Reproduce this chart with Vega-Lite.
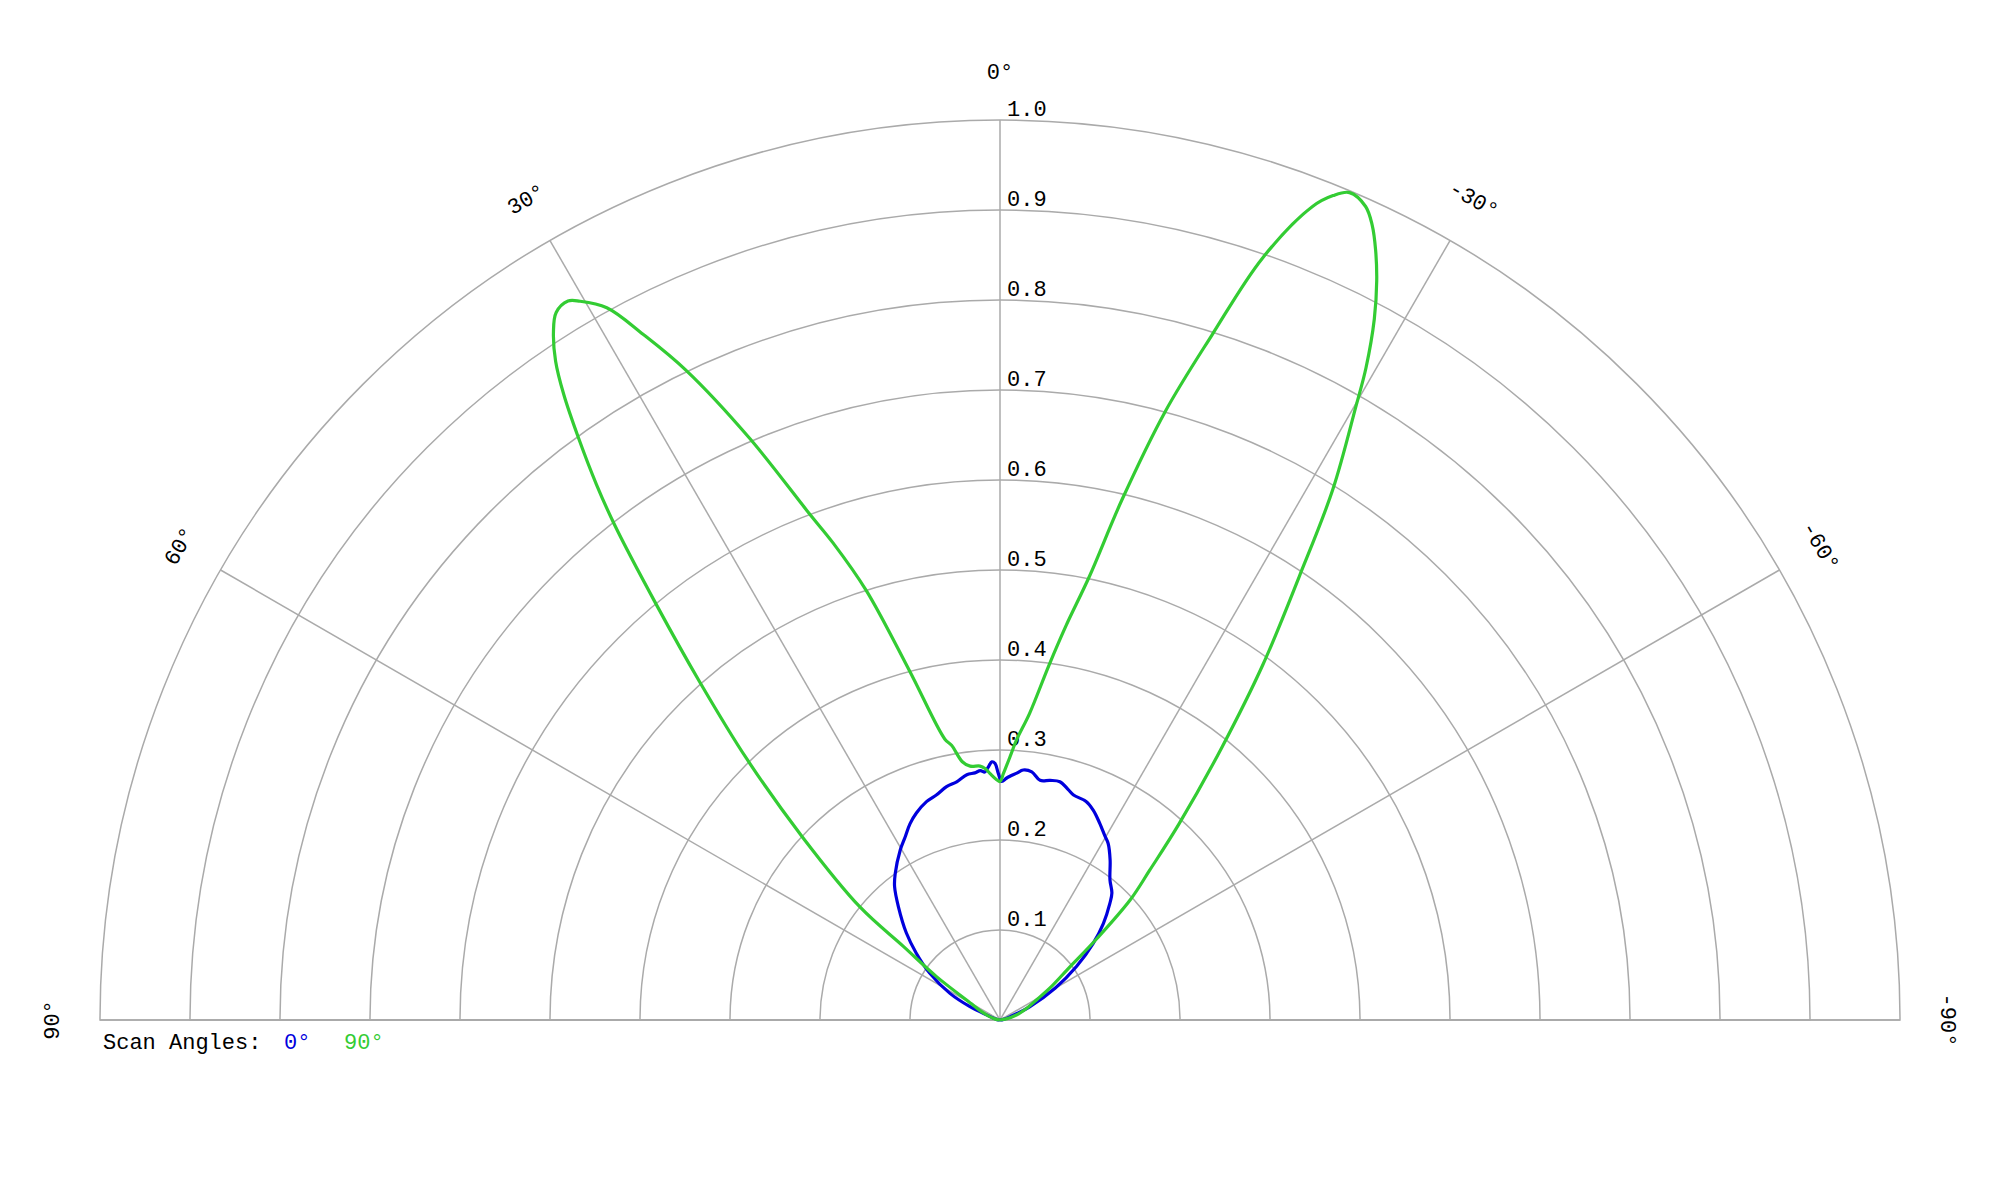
{
  "$schema": "https://vega.github.io/schema/vega-lite/v6.json",
  "width": 2000,
  "height": 1200,
  "autosize": {"type": "none"},
  "padding": 0,
  "background": "white",
  "config": {"view": {"stroke": null}, "font": "Liberation Mono"},
  "datasets": {
    "rings": [{"r": 0.1}, {"r": 0.2}, {"r": 0.3}, {"r": 0.4}, {"r": 0.5}, {"r": 0.6}, {"r": 0.7}, {"r": 0.8}, {"r": 0.9}, {"r": 1.0}],
    "spokes": [{"a": -90}, {"a": -60}, {"a": -30}, {"a": 0}, {"a": 30}, {"a": 60}, {"a": 90}],
    "angleLabels": [
      {"a": 90, "label": "90°"}, {"a": 60, "label": "60°"}, {"a": 30, "label": "30°"}, {"a": 0, "label": "0°"},
      {"a": -30, "label": "-30°"}, {"a": -60, "label": "-60°"}, {"a": -90, "label": "-90°"}
    ],
    "curves": [
      {"s": "0°", "a": -90, "v": 0}, {"s": "0°", "a": -80, "v": 0.004}, {"s": "0°", "a": -72, "v": 0.012},
      {"s": "0°", "a": -66, "v": 0.036}, {"s": "0°", "a": -60, "v": 0.071}, {"s": "0°", "a": -55, "v": 0.104},
      {"s": "0°", "a": -50.6, "v": 0.134}, {"s": "0°", "a": -47, "v": 0.157}, {"s": "0°", "a": -43.3, "v": 0.178},
      {"s": "0°", "a": -41.4, "v": 0.188}, {"s": "0°", "a": -38.1, "v": 0.198}, {"s": "0°", "a": -34.5, "v": 0.216},
      {"s": "0°", "a": -31.5, "v": 0.23}, {"s": "0°", "a": -29.8, "v": 0.235}, {"s": "0°", "a": -26.9, "v": 0.245},
      {"s": "0°", "a": -24, "v": 0.255}, {"s": "0°", "a": -21.5, "v": 0.261}, {"s": "0°", "a": -18.1, "v": 0.263},
      {"s": "0°", "a": -16.5, "v": 0.267}, {"s": "0°", "a": -14.1, "v": 0.273}, {"s": "0°", "a": -11.8, "v": 0.272},
      {"s": "0°", "a": -9.5, "v": 0.27}, {"s": "0°", "a": -7.3, "v": 0.278}, {"s": "0°", "a": -5.3, "v": 0.279},
      {"s": "0°", "a": -3.9, "v": 0.275}, {"s": "0°", "a": -1.6, "v": 0.269}, {"s": "0°", "a": -0.4, "v": 0.265},
      {"s": "0°", "a": 0.4, "v": 0.274}, {"s": "0°", "a": 1.1, "v": 0.285}, {"s": "0°", "a": 1.8, "v": 0.287},
      {"s": "0°", "a": 2.7, "v": 0.281}, {"s": "0°", "a": 3.5, "v": 0.276}, {"s": "0°", "a": 4.5, "v": 0.278},
      {"s": "0°", "a": 5.8, "v": 0.276}, {"s": "0°", "a": 7.7, "v": 0.275}, {"s": "0°", "a": 10.3, "v": 0.269},
      {"s": "0°", "a": 12.9, "v": 0.266}, {"s": "0°", "a": 15.7, "v": 0.26}, {"s": "0°", "a": 18.6, "v": 0.256},
      {"s": "0°", "a": 22, "v": 0.248}, {"s": "0°", "a": 24.6, "v": 0.24}, {"s": "0°", "a": 27.4, "v": 0.229},
      {"s": "0°", "a": 30.4, "v": 0.219}, {"s": "0°", "a": 35.6, "v": 0.2}, {"s": "0°", "a": 38.3, "v": 0.189},
      {"s": "0°", "a": 41.9, "v": 0.169}, {"s": "0°", "a": 47.1, "v": 0.142}, {"s": "0°", "a": 51.4, "v": 0.119},
      {"s": "0°", "a": 56.3, "v": 0.094}, {"s": "0°", "a": 62, "v": 0.063}, {"s": "0°", "a": 66, "v": 0.037},
      {"s": "0°", "a": 69.3, "v": 0.016}, {"s": "0°", "a": 80, "v": 0.004}, {"s": "0°", "a": 90, "v": 0},

      {"s": "90°", "a": -90, "v": 0}, {"s": "90°", "a": -80, "v": 0.007}, {"s": "90°", "a": -73, "v": 0.019},
      {"s": "90°", "a": -66, "v": 0.033}, {"s": "90°", "a": -61, "v": 0.047}, {"s": "90°", "a": -57, "v": 0.068},
      {"s": "90°", "a": -53, "v": 0.095}, {"s": "90°", "a": -50, "v": 0.14}, {"s": "90°", "a": -47.3, "v": 0.197},
      {"s": "90°", "a": -45, "v": 0.235}, {"s": "90°", "a": -42.4, "v": 0.295}, {"s": "90°", "a": -39.1, "v": 0.392},
      {"s": "90°", "a": -36.5, "v": 0.491}, {"s": "90°", "a": -34, "v": 0.595}, {"s": "90°", "a": -32.1, "v": 0.696},
      {"s": "90°", "a": -30.1, "v": 0.789}, {"s": "90°", "a": -29.3, "v": 0.831}, {"s": "90°", "a": -28.1, "v": 0.883},
      {"s": "90°", "a": -27, "v": 0.922}, {"s": "90°", "a": -26, "v": 0.952}, {"s": "90°", "a": -25.1, "v": 0.975},
      {"s": "90°", "a": -24.2, "v": 0.991}, {"s": "90°", "a": -22.9, "v": 0.998}, {"s": "90°", "a": -22, "v": 0.988},
      {"s": "90°", "a": -21, "v": 0.968}, {"s": "90°", "a": -19, "v": 0.895}, {"s": "90°", "a": -17.2, "v": 0.797},
      {"s": "90°", "a": -15.2, "v": 0.701}, {"s": "90°", "a": -13.2, "v": 0.594}, {"s": "90°", "a": -11.4, "v": 0.503},
      {"s": "90°", "a": -9.5, "v": 0.444}, {"s": "90°", "a": -7.9, "v": 0.399}, {"s": "90°", "a": -5.5, "v": 0.342},
      {"s": "90°", "a": -3.4, "v": 0.312}, {"s": "90°", "a": -2.2, "v": 0.293}, {"s": "90°", "a": -0.8, "v": 0.274},
      {"s": "90°", "a": 0, "v": 0.265}, {"s": "90°", "a": 0.8, "v": 0.267}, {"s": "90°", "a": 2.3, "v": 0.274},
      {"s": "90°", "a": 3.4, "v": 0.28}, {"s": "90°", "a": 4.5, "v": 0.283}, {"s": "90°", "a": 6.7, "v": 0.284},
      {"s": "90°", "a": 8.3, "v": 0.29}, {"s": "90°", "a": 10, "v": 0.31}, {"s": "90°", "a": 11.1, "v": 0.318},
      {"s": "90°", "a": 14.5, "v": 0.4}, {"s": "90°", "a": 17.3, "v": 0.5}, {"s": "90°", "a": 19.3, "v": 0.562},
      {"s": "90°", "a": 20.6, "v": 0.6}, {"s": "90°", "a": 23.3, "v": 0.704}, {"s": "90°", "a": 25.8, "v": 0.802},
      {"s": "90°", "a": 27.5, "v": 0.859}, {"s": "90°", "a": 28.9, "v": 0.904}, {"s": "90°", "a": 30.3, "v": 0.925},
      {"s": "90°", "a": 31, "v": 0.932}, {"s": "90°", "a": 32.1, "v": 0.928}, {"s": "90°", "a": 33, "v": 0.911},
      {"s": "90°", "a": 34, "v": 0.883}, {"s": "90°", "a": 34.9, "v": 0.847}, {"s": "90°", "a": 35.9, "v": 0.799},
      {"s": "90°", "a": 37, "v": 0.745}, {"s": "90°", "a": 37.9, "v": 0.697}, {"s": "90°", "a": 39.6, "v": 0.599},
      {"s": "90°", "a": 41.6, "v": 0.503}, {"s": "90°", "a": 44.1, "v": 0.405}, {"s": "90°", "a": 47.2, "v": 0.299},
      {"s": "90°", "a": 51.1, "v": 0.2}, {"s": "90°", "a": 52.7, "v": 0.135}, {"s": "90°", "a": 55.7, "v": 0.085},
      {"s": "90°", "a": 60.5, "v": 0.036}, {"s": "90°", "a": 65, "v": 0.024}, {"s": "90°", "a": 69, "v": 0.016},
      {"s": "90°", "a": 78, "v": 0.006}, {"s": "90°", "a": 90, "v": 0}
    ]
  },
  "layer": [
    {
      "data": {"name": "rings"},
      "mark": {"type": "arc", "theta": -1.5707963, "theta2": 1.5707963, "filled": false, "stroke": "#aaaaaa", "strokeWidth": 1.5},
      "encoding": {
        "x": {"datum": 0, "type": "quantitative", "scale": {"domain": [-1.111111, 1.111111], "nice": false, "zero": false}, "axis": null},
        "y": {"datum": 0, "type": "quantitative", "scale": {"domain": [-0.2, 1.133333], "nice": false, "zero": false}, "axis": null},
        "radius": {"field": "r", "type": "quantitative", "stack": null, "scale": {"type": "linear", "domain": [0, 1], "range": [0, 900], "zero": true}}
      }
    },
    {
      "data": {"name": "spokes"},
      "transform": [
        {"calculate": "-sin(datum.a * PI / 180)", "as": "ex"},
        {"calculate": "cos(datum.a * PI / 180)", "as": "ey"}
      ],
      "mark": {"type": "rule", "stroke": "#aaaaaa", "strokeWidth": 1.5},
      "encoding": {
        "x": {"field": "ex", "type": "quantitative"},
        "y": {"field": "ey", "type": "quantitative"},
        "x2": {"datum": 0},
        "y2": {"datum": 0}
      }
    },
    {
      "data": {"name": "rings"},
      "mark": {"type": "text", "align": "left", "baseline": "alphabetic", "dx": 7, "dy": -4, "fontSize": 22, "font": "Liberation Mono", "color": "#000000"},
      "encoding": {
        "x": {"datum": 0, "type": "quantitative"},
        "y": {"field": "r", "type": "quantitative"},
        "text": {"field": "r", "type": "quantitative", "format": ".1f"}
      }
    },
    {
      "data": {"name": "angleLabels"},
      "transform": [
        {"calculate": "-1.053 * sin(datum.a * PI / 180)", "as": "lx"},
        {"calculate": "1.053 * cos(datum.a * PI / 180)", "as": "ly"}
      ],
      "mark": {"type": "text", "align": "center", "baseline": "middle", "fontSize": 22, "font": "Liberation Mono", "color": "#000000"},
      "encoding": {
        "x": {"field": "lx", "type": "quantitative"},
        "y": {"field": "ly", "type": "quantitative"},
        "text": {"field": "label"},
        "angle": {"field": "a", "type": "quantitative", "scale": {"type": "linear", "domain": [-90, 90], "range": [90, -90]}}
      }
    },
    {
      "data": {"name": "curves"},
      "transform": [
        {"calculate": "-datum.v * sin(datum.a * PI / 180)", "as": "px"},
        {"calculate": "datum.v * cos(datum.a * PI / 180)", "as": "py"}
      ],
      "mark": {"type": "line", "strokeWidth": 3.2, "interpolate": "catmull-rom"},
      "encoding": {
        "x": {"field": "px", "type": "quantitative"},
        "y": {"field": "py", "type": "quantitative"},
        "order": {"field": "a", "type": "quantitative"},
        "color": {
          "field": "s",
          "type": "nominal",
          "scale": {"domain": ["0°", "90°"], "range": ["#0000dd", "#33cc33"]},
          "legend": {
            "orient": "none",
            "legendX": 103,
            "legendY": 1031,
            "direction": "horizontal",
            "title": "Scan Angles:",
            "titleOrient": "left",
            "titleFont": "Liberation Mono",
            "titleFontSize": 22,
            "titleFontWeight": "normal",
            "titleColor": "#000000",
            "titlePadding": 0,
            "labelFont": "Liberation Mono",
            "labelFontSize": 22,
            "labelOffset": 0,
            "symbolSize": 0,
            "symbolStrokeWidth": 0,
            "symbolOpacity": 0,
            "columnPadding": 11,
            "encode": {"labels": {"update": {"fill": {"scale": "color", "field": "value"}}}}
          }
        }
      }
    }
  ]
}
